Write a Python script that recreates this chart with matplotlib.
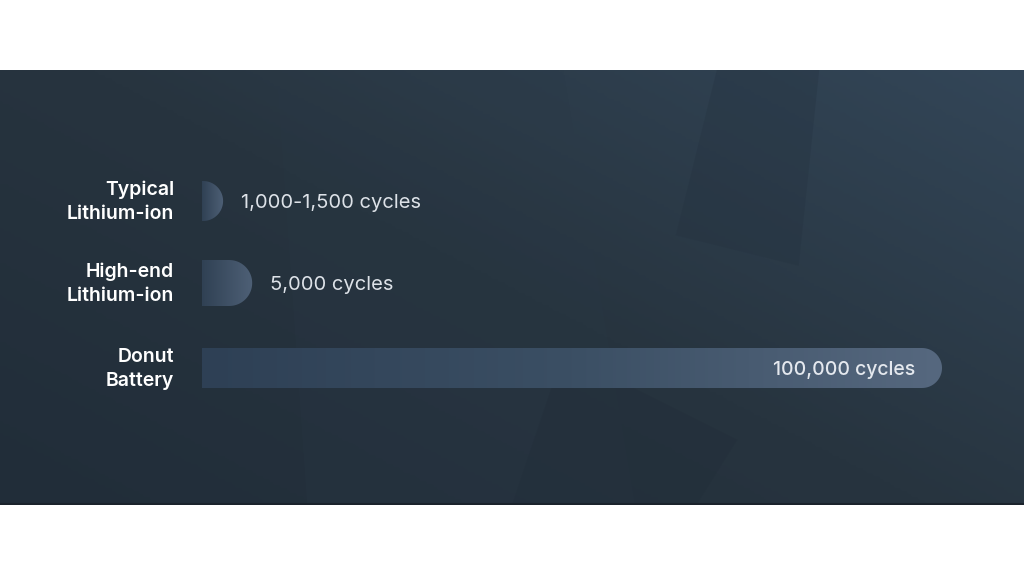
import numpy as np
import matplotlib.pyplot as plt
from matplotlib.path import Path
from matplotlib.patches import PathPatch, Polygon
from matplotlib.colors import LinearSegmentedColormap

plt.rcParams['font.family'] = ['Inter', 'DejaVu Sans']

# data
categories = ['Typical\nLithium-ion', 'High-end\nLithium-ion', 'Donut\nBattery']
cycles = [1250, 5000, 100000]
value_labels = ['1,000-1,500 cycles', '5,000 cycles', '100,000 cycles']

W, H = 1024, 576
fig = plt.figure(figsize=(W / 100, H / 100), dpi=100)
fig.patch.set_facecolor('white')

# dark background panel with soft diagonal gradient
bg = fig.add_axes([0, (H - 505) / H, 1, (505 - 70) / H])
bg.set_axis_off()
gx, gy = np.meshgrid(np.linspace(0, 1, 300), np.linspace(0, 1, 150))
g = 0.55 * gx + 0.45 * gy
bg_cmap = LinearSegmentedColormap.from_list('bg', ['#212d39', '#27343f', '#334658'])
bg.imshow(g, cmap=bg_cmap, origin='lower', extent=(0, 1, 0, 1), aspect='auto')
# faint shapes in the background
for pts, col, a in [
    ([(0.27, 1.0), (0.55, 1.0), (0.62, 0.0), (0.30, 0.0)], '#2b3a48', 0.2),
    ([(0.70, 1.0), (0.80, 1.0), (0.78, 0.55), (0.66, 0.62)], '#24313f', 0.3),
    ([(0.55, 0.35), (0.72, 0.15), (0.68, 0.0), (0.50, 0.0)], '#212c38', 0.3),
]:
    bg.add_patch(Polygon(pts, closed=True, facecolor=col, alpha=a, lw=0))
bg.set_xlim(0, 1)
bg.set_ylim(0, 1)
bg.plot([0, 1], [0.002, 0.002], color='#1b232c', lw=1.5)

# main bar axes spanning pixels 202..942
top_px, bot_px = 160, 410
ax = fig.add_axes([202 / W, (H - bot_px) / H, (942 - 202) / W, (bot_px - top_px) / H])
ax.set_axis_off()
ax.patch.set_alpha(0)
px_per_x = (740 - 12) / 100000
xlim_max = 740 / px_per_x
centers_px = [201, 283, 368]
step = 83.5
ylow = (centers_px[0] - top_px) / step
yhigh = (bot_px - centers_px[0]) / step
ys = [(c - centers_px[0]) / step for c in centers_px]

heights_px = [40, 46, 40]
bar_cmap = LinearSegmentedColormap.from_list('bar', ['#2e4055', '#3b4f64', '#56687f'])

for i, (y, val) in enumerate(zip(ys, cycles)):
    hpx = heights_px[i]
    h = hpx / step
    rx = (hpx / 2) / px_per_x
    end = val + 0.6 * rx
    x0 = end - rx
    theta = np.linspace(-np.pi / 2, np.pi / 2, 40)
    arc_x = x0 + rx * np.cos(theta)
    arc_y = y - (h / 2) * np.sin(theta)
    verts = [(0, y + h / 2)] + list(zip(arc_x, arc_y)) + [(0, y - h / 2), (0, y + h / 2)]
    codes = [Path.MOVETO] + [Path.LINETO] * (len(verts) - 2) + [Path.CLOSEPOLY]
    patch = PathPatch(Path(verts, codes), facecolor='none', lw=0)
    ax.add_patch(patch)
    grad = np.linspace(0, 1, 256).reshape(1, -1)
    if i < 2:
        cm = LinearSegmentedColormap.from_list('s', ['#304154', '#4e6076'])
    else:
        cm = bar_cmap
    im = ax.imshow(grad, cmap=cm, extent=(0, end, y - h / 2, y + h / 2),
                   aspect='auto', origin='lower', interpolation='bilinear')
    im.set_clip_path(patch)

    # category label
    ax.text(-28 / px_per_x, y + 0.01, categories[i], ha='right', va='center',
            color='white', fontsize=14, fontweight='semibold', linespacing=1.45)
    # value label
    if i < 2:
        ax.text(end + 18 / px_per_x, y + 0.025, value_labels[i], ha='left', va='center',
                color='#dde2e8', fontsize=14.5)
    else:
        ax.text(end - 27 / px_per_x, y + 0.025, value_labels[i], ha='right', va='center',
                color='#e4e8ee', fontsize=14, fontweight='medium')

ax.set_xlim(0, xlim_max)
ax.set_ylim(yhigh, -ylow)

fig.savefig('out.png', dpi=100, facecolor='white')
